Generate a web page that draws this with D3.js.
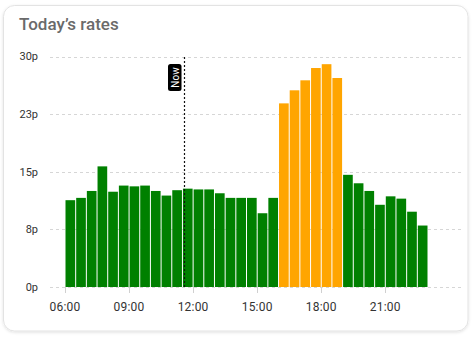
<!DOCTYPE html>
<html>
<head>
<meta charset="utf-8">
<script src="https://cdn.jsdelivr.net/npm/d3@7"></script>
<style>
  html, body { margin: 0; padding: 0; background: #fff; }
  svg { display: block; }
</style>
</head>
<body>
<svg id="chart" width="474" height="338"></svg>
<script>
// ---- Data ----
const slotStarts = [
  "06:00","06:30","07:00","07:30","08:00","08:30","09:00","09:30","10:00","10:30",
  "11:00","11:30","12:00","12:30","13:00","13:30","14:00","14:30","15:00","15:30",
  "16:00","16:30","17:00","17:30","18:00","18:30","19:00","19:30","20:00","20:30",
  "21:00","21:30","22:00","22:30"
];
const rates = [
  11.3, 11.6, 12.5, 15.7, 12.4, 13.2, 13.1, 13.2, 12.5, 11.9,
  12.6, 12.8, 12.7, 12.7, 12.2, 11.6, 11.6, 11.6, 9.6, 11.6,
  23.9, 25.6, 26.9, 28.5, 29.0, 27.2, 14.6, 13.5, 12.5, 10.7,
  11.8, 11.5, 9.8, 8.0
];
const peakStart = "16:00";
const peakEnd = "19:00";
const nowTime = "11:33";
const yTickValues = [0, 7.5, 15, 22.5, 30];
const xTickLabels = ["06:00","09:00","12:00","15:00","18:00","21:00"];
const titleText = "Today’s rates";

// ---- Helpers ----
const parse = s => { const [h, m] = s.split(":").map(Number); return new Date(2024, 0, 1, h, m); };
const slotMs = 30 * 60 * 1000;

const svg = d3.select("#chart");

// card
svg.append("defs").append("filter").attr("id", "sh").attr("x", "-5%").attr("y", "-5%").attr("width", "110%").attr("height", "112%")
  .append("feDropShadow").attr("dx", 0).attr("dy", 1).attr("stdDeviation", 1.5).attr("flood-color", "#000").attr("flood-opacity", 0.12);
svg.append("rect").attr("x", 3.5).attr("y", 5.5).attr("width", 464.5).attr("height", 325.5)
  .attr("rx", 11).attr("fill", "#fff").attr("stroke", "#e3e3e3").attr("filter", "url(#sh)");

svg.append("text").attr("x", 19).attr("y", 29.5).text(titleText)
  .attr("font-family", "Roboto, 'Liberation Sans', sans-serif").attr("font-size", 17).attr("font-weight", 500)
  .attr("fill", "#6a6a6a");

// scales
const x = d3.scaleTime().domain([parse("06:00"), parse("23:00")]).range([65, 428]);
const y = d3.scaleLinear().domain([0, 30]).range([287, 56.5]);
const gridX0 = 50, gridX1 = 463;

// grid
const g = svg.append("g");
g.selectAll("line.grid").data(yTickValues).join("line")
  .attr("x1", gridX0).attr("x2", gridX1)
  .attr("y1", d => Math.round(y(d)) + 0.5).attr("y2", d => Math.round(y(d)) + 0.5)
  .attr("stroke", "#d6d6d6").attr("stroke-dasharray", "3,3");

// y labels
g.selectAll("text.yl").data(yTickValues).join("text")
  .attr("x", 38).attr("y", d => y(d)).attr("dy", "0.35em").attr("text-anchor", "end")
  .attr("font-family", "Roboto, 'Liberation Sans', sans-serif").attr("font-size", 11).attr("fill", "#333")
  .text(d => Math.round(d) + "p");

// x axis ticks + labels
const xTicks = xTickLabels.map(parse);
g.selectAll("line.xt").data(xTicks).join("line")
  .attr("x1", d => Math.round(x(d)) + 0.5).attr("x2", d => Math.round(x(d)) + 0.5)
  .attr("y1", 287).attr("y2", 293).attr("stroke", "#d0d0d0");
g.selectAll("text.xl").data(xTicks).join("text")
  .attr("x", d => x(d)).attr("y", 311).attr("text-anchor", "middle")
  .attr("font-family", "Roboto, 'Liberation Sans', sans-serif").attr("font-size", 12).attr("fill", "#333")
  .attr("letter-spacing", 0.2)
  .text((d, i) => xTickLabels[i]);

// bars
const ps = parse(peakStart), pe = parse(peakEnd);
const bars = slotStarts.map((s, i) => ({ t: parse(s), v: rates[i] }));
svg.append("g").selectAll("rect").data(bars).join("rect")
  .attr("x", d => x(d.t) + 0.5)
  .attr("width", d => x(new Date(+d.t + slotMs)) - x(d.t) - 1)
  .attr("y", d => y(d.v))
  .attr("height", d => y(0) - y(d.v))
  .attr("fill", d => (d.t >= ps && d.t < pe) ? "#FFA500" : "#008000");

// now line
const nx = Math.round(x(parse(nowTime))) + 0.5;
svg.append("line").attr("x1", nx).attr("x2", nx).attr("y1", 57).attr("y2", 287)
  .attr("stroke", "#111").attr("stroke-width", 1.2).attr("stroke-dasharray", "2,2");
svg.append("rect").attr("x", nx - 16.5).attr("y", 64).attr("width", 13.5).attr("height", 27).attr("rx", 2.5).attr("fill", "#000");
svg.append("text").attr("transform", `translate(${nx - 9.5},77.5) rotate(-90)`)
  .attr("text-anchor", "middle").attr("dy", "0.35em")
  .attr("font-family", "Roboto, 'Liberation Sans', sans-serif").attr("font-size", 10).attr("fill", "#fff")
  .text("Now");
</script>
</body>
</html>
